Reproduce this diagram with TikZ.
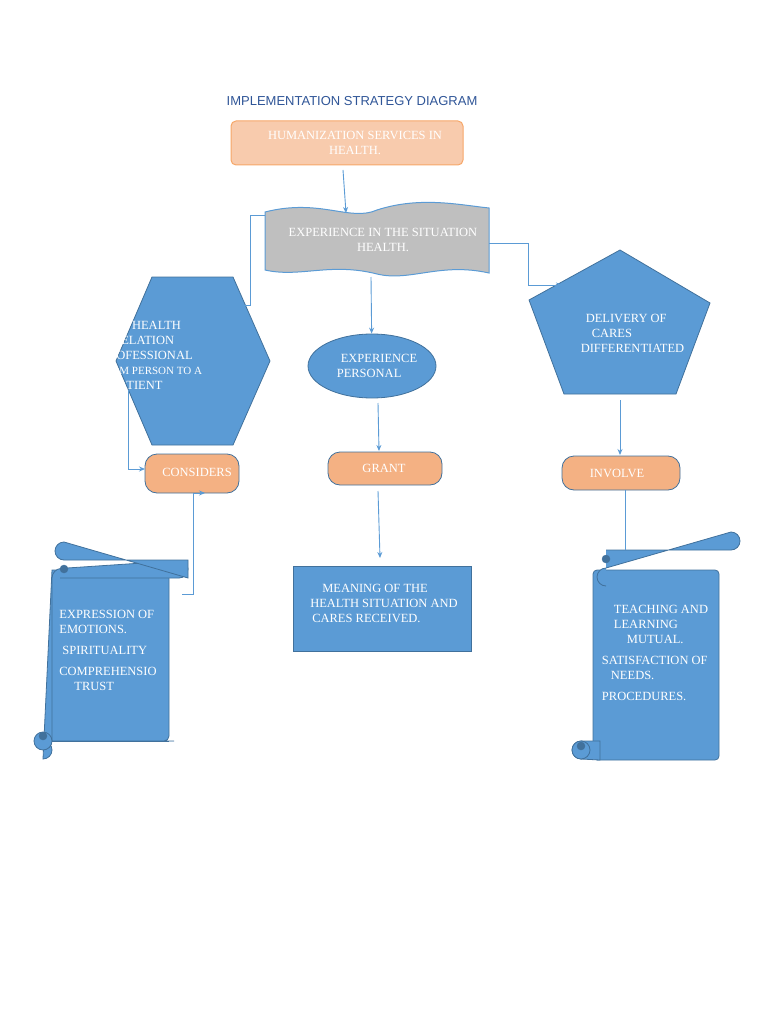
\documentclass[tikz,border=0pt]{standalone}
\usepackage{fontspec}
\setmainfont{Liberation Serif}
\newfontfamily\titlefont{Liberation Sans}
\usetikzlibrary{shapes.geometric,arrows.meta}
\definecolor{bfill}{HTML}{5B9BD5}
\definecolor{bedge}{HTML}{41719C}
\definecolor{pfill}{HTML}{F4B183}
\definecolor{lpfill}{HTML}{F8CBAD}
\definecolor{gfill}{HTML}{BFBFBF}
\definecolor{ttl}{HTML}{2F5597}
\begin{document}
\begin{tikzpicture}[x=1pt,y=-1pt,
 txt/.style={text=white,font=\fontsize{12.5}{15}\selectfont,align=left,inner sep=0},
 blue/.style={fill=bfill,draw=bedge,line width=0.8pt},
 pill/.style={fill=pfill,draw=bedge,line width=0.8pt,rounded corners=12pt},
 con/.style={draw=bfill,line width=0.9pt},
 arr/.style={con,-{Stealth[length=6pt,width=5pt]}}]
\useasboundingbox (0,0) rectangle (768,1024);
\node[text=ttl,font=\titlefont\fontsize{13}{15}\selectfont] (title) at (352,101) {IMPLEMENTATION STRATEGY DIAGRAM};
% top box
\draw[fill=lpfill,draw=pfill!80!orange,line width=1pt,rounded corners=5pt] (231,121) rectangle (463,165);
\node[txt,align=center] (hum) at (355,143) {HUMANIZATION SERVICES IN\\HEALTH.};
% banner
\draw[fill=gfill,draw=bfill,line width=1pt] (265,212) .. controls (320,198) and (350,222) .. (377,210) .. controls (420,196) and (460,205) .. (489,208) -- (489,273) .. controls (440,262) and (410,282) .. (377,274) .. controls (330,262) and (300,278) .. (265,270) -- cycle;
\node[txt,align=center] (exp) at (383,240) {EXPERIENCE IN THE SITUATION\\HEALTH.};
\coordinate (bt) at (346,213);
\draw[arr] (343,170) -- (bt);
% hexagon
\draw[blue] (152,277) -- (233,277) -- (270,361) -- (233,445) -- (152,445) -- (116,361) -- cycle;
\node[txt] (hex) at (150,355) {\hspace*{15pt}OF HEALTH\\\hspace*{15pt}RELATION\\\hspace*{3pt}PROFESSIONAL\\{\fontsize{11}{13}\selectfont FROM PERSON TO A}\\\hspace*{15pt}PATIENT};
% ellipse
\node[ellipse,blue,minimum width=128pt,minimum height=64pt] (ell) at (372,366) {};
\node[txt] at (377,366) {\hspace*{4pt}EXPERIENCE\\PERSONAL};
% pentagon
\draw[blue] (620,250) -- (710,303) -- (676,394) -- (564,394) -- (529,300) -- cycle;
\node[txt] (pent) at (630,333) {\hspace*{10pt}DELIVERY OF\\\hspace*{16pt}CARES\\\hspace*{0pt}\hspace*{5pt}DIFFERENTIATED};
% pills
\draw[pill] (145,454) rectangle (239,493);
\node[txt] (cons) at (197,472) {CONSIDERS};
\draw[pill] (328,452) rectangle (442,485);
\node[txt] (grant) at (384,468) {GRANT};
\draw[pill] (562,456) rectangle (680,490);
\node[txt] (inv) at (617,473) {INVOLVE};
% rect
\draw[blue] (293,566) rectangle (471,651);
\node[txt] (mean) at (384,603) {\hspace*{12pt}MEANING OF THE\\HEALTH SITUATION AND\\\hspace*{2pt}CARES RECEIVED.};
% left scroll
\draw[blue] (52,570) -- (169,570) -- (169,736) arc (0:90:5) -- (174,741) -- (43,741) arc (90:270:-9) -- cycle;
\draw[blue,rounded corners=9pt] (52,741) -- (52,569) -- (188,560) -- (188,578) -- (60,578);
\draw[blue] (64,560) arc (90:270:9) -- (188,578) -- (188,560) -- cycle;
\draw[blue] (52,741) -- (169,741) arc (0:-90:0) ;
\draw[blue] (43,741) circle (9);
\draw[fill=bedge,draw=bedge] (43,736) circle (4);
\draw[fill=bedge,draw=bedge] (64,569) circle (4);
\node[txt] (ls) at (108,650) {EXPRESSION OF\\EMOTIONS.\\[6pt]\hspace*{3pt}SPIRITUALITY\\[6pt]COMPREHENSIO\\\hspace*{15pt}TRUST};
% right scroll
\draw[blue,rounded corners=4pt] (593,570) rectangle (719,760);
\draw[blue] (606,550) -- (731,550) arc (90:-90:9) -- (606,568) arc (-90:-270:9);
\draw[blue] (581,750) circle (9);
\draw[blue] (581,741) -- (600,741) -- (600,760) -- (581,759);
\draw[blue] (581,750) circle (9);
\draw[fill=bedge,draw=bedge] (581,746) circle (4);
\draw[fill=bedge,draw=bedge] (606,559) circle (4);
\node[txt] (rs) at (655,653) {\hspace*{12pt}TEACHING AND\\\hspace*{12pt}LEARNING\\\hspace*{25pt}MUTUAL.\\[6pt]SATISFACTION OF\\\hspace*{9pt}NEEDS.\\[6pt]PROCEDURES.};
% connectors
\coordinate (b1) at (265,215);
\coordinate (h1) at (244,305);
\draw[con] (b1) -- (250,215) -- (250,305) -- (h1);
\coordinate (h2) at (128,390);
\coordinate (c1) at (145,469);
\draw[arr] (h2) -- (128,469) -- (c1);
\coordinate (s1) at (182,594);
\coordinate (c2) at (205,493);
\draw[arr] (s1) -- (193,594) -- (193,493) -- (c2);
\coordinate (b2) at (489,243);
\coordinate (p1) at (562,285);
\draw[arr] (b2) -- (528,243) -- (528,285) -- (p1);
\coordinate (b3) at (371,277);
\draw[arr] (b3) -- (ell);
\draw[arr] (378,403) -- (379,451);
\draw[arr] (378,491) -- (380,558);
\draw[arr] (620,400) -- (620,455);
\draw[con] (625,490) -- (625,550);
\end{tikzpicture}
\end{document}
